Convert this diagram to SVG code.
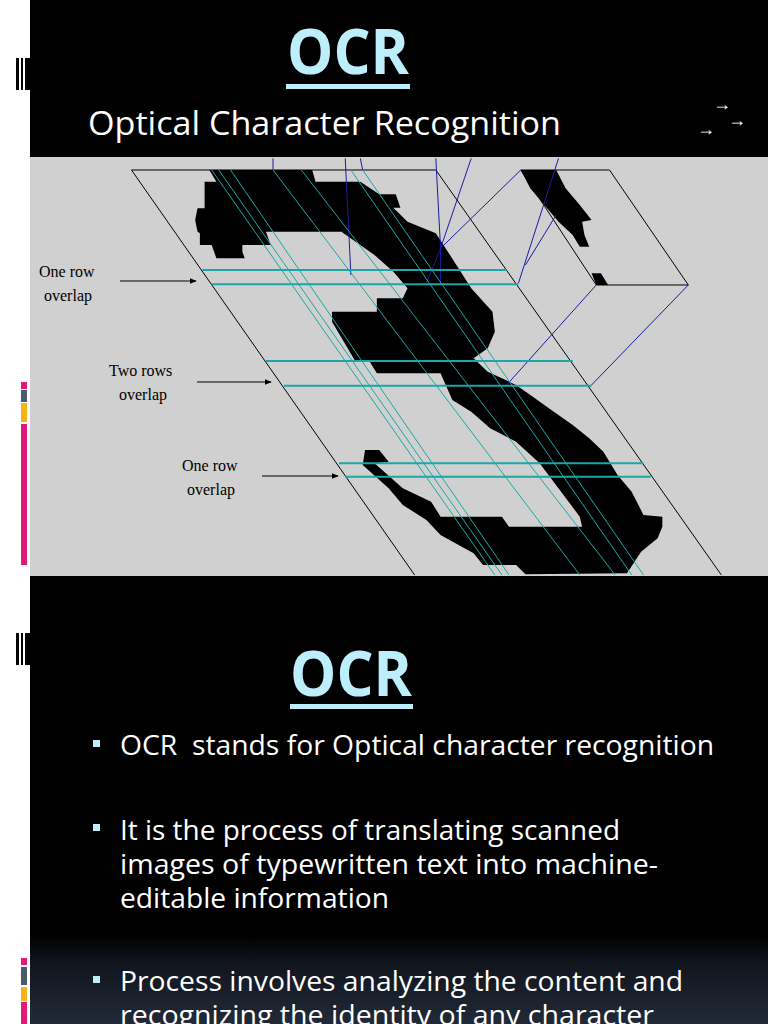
<svg xmlns="http://www.w3.org/2000/svg" width="768" height="1024" viewBox="0 0 768 1024">
<defs>
<linearGradient id="bg2" x1="0" y1="0" x2="0" y2="1">
<stop offset="0" stop-color="#000"/><stop offset="0.8" stop-color="#000"/><stop offset="0.86" stop-color="#10141c"/><stop offset="1" stop-color="#222a38"/>
</linearGradient>
<style>
.ttl{font-family:"Open Sans","Liberation Sans",sans-serif;font-weight:bold;fill:#bdeefb}
.wt{font-family:"Open Sans","Liberation Sans",sans-serif;fill:#fff}
.lab{font-family:"Liberation Serif",serif;font-size:16px;fill:#000}
.blk{stroke:#000;stroke-width:1;fill:none;vector-effect:non-scaling-stroke}
.arr{stroke:#000;stroke-width:1;fill:none}
.cy{stroke:#1aa7a7;stroke-width:1;fill:none;vector-effect:non-scaling-stroke}
.cyh{stroke:#1aa7a7;stroke-width:2;fill:none;vector-effect:non-scaling-stroke}
.bl{stroke:#1c1ca0;stroke-width:1;fill:none;vector-effect:non-scaling-stroke}
</style>
<marker id="ah" viewBox="0 0 10 10" refX="9" refY="5" markerWidth="7" markerHeight="7" markerUnits="userSpaceOnUse" orient="auto"><path d="M0,1 L10,5 L0,9 z" fill="#000"/></marker>
</defs>
<rect width="768" height="1024" fill="#fff"/>
<rect x="30" y="0" width="738" height="158" fill="#000"/>
<rect x="30" y="157" width="738" height="419" fill="#d0d0d0"/>
<rect x="30" y="576" width="738" height="448" fill="url(#bg2)"/>
<g id="marks">
<rect x="16" y="58" width="3" height="32" fill="#000"/><rect x="21" y="58" width="2" height="32" fill="#000"/><rect x="25" y="58" width="5" height="32" fill="#000"/>
<rect x="16" y="633" width="3" height="32" fill="#000"/><rect x="21" y="633" width="2" height="32" fill="#000"/><rect x="25" y="633" width="5" height="32" fill="#000"/>
<rect x="21" y="382" width="6" height="7" fill="#e0197a"/><rect x="21" y="390" width="6" height="12" fill="#4a5a6a"/><rect x="21" y="403" width="6" height="19" fill="#f8b416"/><rect x="21" y="424" width="6" height="141" fill="#e0197a"/>
<rect x="21" y="958" width="6" height="7" fill="#e0197a"/><rect x="21" y="967" width="6" height="18" fill="#4a5a6a"/><rect x="21" y="987" width="6" height="14" fill="#f8b416"/><rect x="21" y="1002" width="6" height="22" fill="#e0197a"/>
</g>
<g id="title1">
<text class="ttl" x="348" y="74" font-size="62" text-anchor="middle" textLength="122" lengthAdjust="spacingAndGlyphs">OCR</text>
<rect x="286" y="84" width="124" height="5" fill="#bdeefb"/>
<text class="wt" x="88" y="135" font-size="32" textLength="473" lengthAdjust="spacingAndGlyphs">Optical Character Recognition</text>
<text class="wt" x="713" y="110" font-size="18">→</text>
<text class="wt" x="728" y="126" font-size="18">→</text>
<text class="wt" x="697" y="135" font-size="18">→</text>
</g>
<g id="figure" transform="translate(30,155) scale(0.4719,0.3333)">
<path fill="#000" d="M380,45 L598,45 L605,80 L700,80 L740,118 L775,118 L785,158 L770,158 L800,200 L690,230 L500,230 L510,270 L450,270 L450,290 L455,310 L395,310 L385,270 L360,270 L360,235 L355,230 L350,195 L355,160 L370,160 L370,80 L395,80 Z"/>
<path fill="#000" d="M660,230 L800,200 L860,235 L890,300 L935,400 L980,470 L985,530 L970,580 L940,610 L970,650 L1030,690 L1070,730 L1110,770 L1150,810 L1185,850 L1215,890 L1245,960 L1275,1010 L1300,1080 L1340,1085 L1340,1115 L1330,1150 L1295,1190 L1265,1255 L1050,1258 L1030,1230 L960,1230 L940,1195 L870,1140 L840,1095 L790,1050 L760,1000 L705,930 L710,885 L740,885 L760,920 L730,925 L790,1000 L850,1040 L870,1085 L1000,1085 L1015,1115 L1170,1115 L1165,1085 L1080,925 L1030,860 L975,820 L935,770 L895,735 L870,655 L735,655 L720,620 L690,620 L640,500 L640,470 L735,470 L735,430 L790,430 L800,400 L770,350 L730,300 L690,260 Z"/>
<path fill="#000" d="M1040,45 L1115,45 L1135,100 L1165,150 L1190,195 L1170,200 L1175,240 L1185,275 L1165,275 L1150,240 L1120,200 L1090,150 L1060,100 Z"/>
<path fill="#000" d="M1190,355 L1210,355 L1225,390 L1200,390 Z"/>
<g id="connectors">
<path class="blk" d="M215,45 L815,1260 M215,45 L860,45 M860,45 L1465,1260 M1040,45 L1228,45 M1040,45 L1200,390 M1228,45 L1395,390 M1200,390 L1395,390"/>
<path class="bl" d="M1200,390 L1010,690 M1395,390 L1190,690 M515,10 L515,45 M668,10 L680,360 M700,10 L705,45 M860,10 L870,280 M935,10 L870,280 M870,280 L1040,45 M870,280 L840,385 M870,280 L870,385 M1120,10 L1035,385 M1115,180 L1050,330"/>
<path class="cy" d="M385,45 L985,1260 M400,45 L1000,1260 M425,45 L1015,1260 M515,45 L1165,1260 M575,45 L1240,1260 M680,45 L1275,1260 M705,45 L1300,1260"/>
<path class="cyh" d="M365,345 L1010,345 M385,388 L1035,388 M500,618 L1150,618 M538,692 L1190,692 M655,925 L1300,925 M668,965 L1315,965"/>
</g>
</g>
<g id="arrows">
<path class="arr" marker-end="url(#ah)" d="M120,281 L196,281"/>
<path class="arr" marker-end="url(#ah)" d="M197,382 L271,382"/>
<path class="arr" marker-end="url(#ah)" d="M262,476 L338,476"/>
</g>
<g id="labels">
<text class="lab" x="39" y="277">One row</text>
<text class="lab" x="44" y="301">overlap</text>
<text class="lab" x="109" y="376">Two rows</text>
<text class="lab" x="119" y="400">overlap</text>
<text class="lab" x="182" y="471">One row</text>
<text class="lab" x="187" y="495">overlap</text>
</g>
<g id="title2">
<text class="ttl" x="351" y="696" font-size="62" text-anchor="middle" textLength="122" lengthAdjust="spacingAndGlyphs">OCR</text>
<rect x="290" y="704" width="123" height="5" fill="#bdeefb"/>
</g>
<g id="bullets">
<rect x="93" y="740" width="7" height="7" fill="#bdeefb"/>
<text class="wt" x="120" y="755" font-size="27" textLength="594" lengthAdjust="spacingAndGlyphs" xml:space="preserve">OCR  stands for Optical character recognition</text>
<rect x="93" y="824" width="7" height="7" fill="#bdeefb"/>
<text class="wt" x="120" y="840" font-size="27" textLength="500" lengthAdjust="spacingAndGlyphs">It is the process of translating scanned</text>
<text class="wt" x="120" y="874" font-size="27" textLength="538" lengthAdjust="spacingAndGlyphs">images of typewritten text into machine-</text>
<text class="wt" x="120" y="908" font-size="27" textLength="269" lengthAdjust="spacingAndGlyphs">editable information</text>
<rect x="93" y="976" width="7" height="7" fill="#bdeefb"/>
<text class="wt" x="120" y="991" font-size="27" textLength="563" lengthAdjust="spacingAndGlyphs">Process involves analyzing the content and</text>
<text class="wt" x="120" y="1025" font-size="27" textLength="534" lengthAdjust="spacingAndGlyphs">recognizing the identity of any character</text>
</g>
</svg>
